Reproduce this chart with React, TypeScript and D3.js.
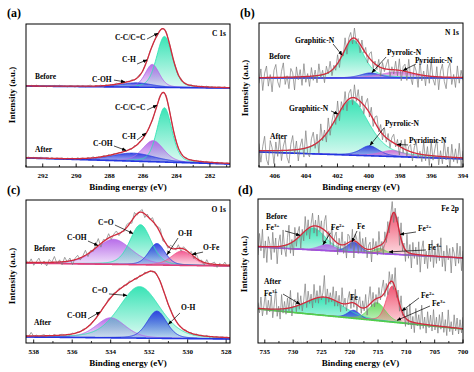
import * as d3 from "d3";

// ---------- data: fitted components [centre (eV), height (a.u.), FWHM (eV)] ----------
// C 1s
const C1S_TICKS = [292, 290, 288, 286, 284, 282];
const C1S_BEFORE_PEAKS = [[284.72, 35.7, 1.1], [285.45, 16, 1.0], [286.4, 3, 2.2]]; // C-C/C=C, C-H, C-OH
const C1S_BEFORE_BASE = [56.6, 55.2];
const C1S_AFTER_PEAKS = [[284.72, 38, 1.05], [285.4, 14.7, 1.5], [286.6, 5.6, 3.0]];
const C1S_AFTER_BASE = [6.3, 2.1];
const C1S_BEFORE_NOISE = [0.3,-0.4,0.5,-0.2,0.6,-0.5,0.2,0.4,-0.6,0.3,-0.2,0.5,-0.4,0.6,-0.3,0.2,-0.5,0.4,0.1,-0.6,0.5,-0.3,0.4,-0.5,0.2,0.6,-0.4,0.3,-0.2,0.5,-0.6,0.4,-0.1,0.3,-0.5,0.6,-0.2,0.4,-0.3,0.5,-0.4,0.7,-0.5,0.3,0.8,-0.6,0.5,-0.3,0.6,-0.4,0.2,-0.5,0.4,-0.3,0.6,-0.2,0.3,-0.5,0.4,-0.6,0.5,-0.2,0.3,-0.4,0.6,-0.3,0.2,-0.5,0.4,-0.1,0.5,-0.4,0.3,-0.6,0.2,0.4,-0.3,0.5,-0.2,0.3];
const C1S_AFTER_NOISE = [-0.3,0.5,-0.2,0.4,-0.6,0.3,0.5,-0.4,0.2,-0.5,0.6,-0.3,0.4,-0.2,0.5,-0.6,0.3,-0.1,0.4,-0.5,0.6,-0.2,0.3,-0.4,0.5,-0.3,0.7,-0.5,0.2,-0.4,0.6,-0.3,0.5,-0.6,0.4,-0.2,0.3,-0.5,0.6,-0.4,0.3,-0.6,0.8,-0.4,0.5,-0.7,0.6,-0.3,0.4,-0.5,0.3,-0.2,0.5,-0.4,0.6,-0.3,0.2,-0.5,0.4,-0.2,0.3,-0.4,0.5,-0.3,0.2,-0.5,0.4,-0.1,0.3,-0.4,0.5,-0.2,0.3,-0.5,0.4,-0.3,0.2,-0.4,0.3,-0.2];

// N 1s
const N1S_TICKS = [406, 404, 402, 400, 398, 396, 394];
const N1S_BEFORE_PEAKS = [[401.0, 26.4, 1.6], [399.9, 3.5, 1.5], [398.2, 4.2, 2.5]]; // Graphitic, Pyrrolic, Pyridinic
const N1S_BEFORE_BASE = [61.8, 61.8];
const N1S_AFTER_PEAKS = [[401.1, 38.2, 2.6], [399.95, 6.9, 1.4], [398.5, 4.2, 1.8]];
const N1S_AFTER_BASE = [10.4, 5.6];
const N1S_BEFORE_NOISE = [-4,6,-9,3,8,-6,2,-10,5,9,-3,-7,4,10,-5,1,-8,6,3,-9,7,-2,5,-6,9,-4,2,-7,6,-3,4,-5,8,-2,3,-6,5,-1,7,-4,2,-3,6,-5,4,-2,8,-6,3,5,-4,7,-3,2,-6,5,-2,4,-5,3,6,-4,2,-3,5,-6,4,-2,3,7,-5,2,-3,6,-4,8,-7,3,5,-6,9,-3,-8,6,2,-9,10,-4,3,-7,8,-5,11,-2,-6,7,-9,4,9,-3,-8,6,10,-5,2,-7,8,-4,5,-2];
const N1S_AFTER_NOISE = [5,-8,3,10,-6,-10,7,2,-9,6,-4,9,-7,3,8,-5,-9,4,10,-3,6,-8,2,7,-6,12,-4,-7,5,9,-3,6,-8,11,-2,4,-6,9,-5,3,7,-4,10,-6,5,-3,8,-7,4,6,-5,9,-2,7,-4,5,-6,3,8,-3,6,-5,4,7,-2,5,-4,6,-3,4,-5,3,6,-2,4,-6,5,-3,7,-4,3,5,-6,4,8,-3,2,-5,9,-4,6,-7,10,-3,5,12,-6,4,-5,11,-2,7,-8,9,-3,6,-4,10,-6,5];

// O 1s
const O1S_TICKS = [538, 536, 534, 532, 530, 528];
const O1S_BEFORE_PEAKS = [[533.85, 17.5, 2.2], [532.45, 28, 1.3], [531.6, 15, 1.0], [530.3, 10, 1.3]]; // C-OH, C=O, O-H, O-Fe
const O1S_BEFORE_BASE = [55.9, 53.8];
const O1S_AFTER_PEAKS = [[534.0, 14, 1.8], [532.5, 36, 2.5], [531.6, 19, 1.2]]; // C-OH, C=O, O-H
const O1S_AFTER_BASE = [4.2, 2.8];
const O1S_BEFORE_NOISE = [1.5,-1,2.5,-2,0.5,3,-1.5,1,-2.5,2,0,4,-1,1.5,-2,3,-0.5,2,-3,1,2.5,-1.5,0.5,3.5,-2,1,-1,2,5,-2.5,1.5,-0.5,3,-2,1,2.5,-1.5,0.5,-1,2,1,-2,3,-1,0.5,2,-2.5,1.5,-0.5,2.5,-1,1,3,-2,0.5,-1.5,2,1,-1,2.5,-2,1.5,0.5,-1,2,-1.5,3,-0.5,1,-2,2.5,-1,0.5,1.5,-2,1,-0.5,2,-1,1];
const O1S_AFTER_NOISE = [0.5,-0.4,2.5,-0.3,0.6,-0.5,0.3,0.8,-0.6,0.4,-0.2,0.7,-0.5,0.3,0.6,-0.4,0.2,-0.6,0.5,-0.3,0.4,-0.5,0.7,-0.2,0.3,-0.6,0.5,-0.4,0.8,-0.3,0.6,-0.5,1.2,-0.4,0.9,-0.6,1.0,-0.3,0.7,-0.8,1.1,-0.5,0.6,-0.9,0.8,-0.4,1.0,-0.7,0.5,-0.6,0.9,-0.3,0.7,-0.5,0.4,-0.6,0.8,-0.2,0.5,-0.4,0.3,-0.5,0.6,-0.3,0.4,-0.6,0.5,-0.2,0.3,-0.4,0.6,-0.3,0.2,-0.5,0.4,-0.3,0.5,-0.2,0.3,-0.4];

// Fe 2p
const FE_TICKS = [735, 730, 725, 720, 715, 710, 705, 700];
const FE_BEFORE_PEAKS = [[726.5, 15.3, 5.3], [724.0, 4.2, 3.5], [719.3, 6.9, 2.8], [714.7, 3.5, 2.5], [712.2, 28.5, 2.1]]; // Fe3+ sat, Fe2+ sat, Fe, Fe3+, Fe2+
const FE_BEFORE_BASE = [66.7, 59.0];
const FE_AFTER_PEAKS = [[724.5, 12.5, 8], [719.3, 5.6, 2.5], [715.2, 12.5, 3.5], [712.5, 25, 2.5]]; // Fe3+ sat, Fe, Fe3+, Fe2+
const FE_AFTER_BASE = [23.6, 9.7];
const FE_BEFORE_NOISE = [-6,9,-3,12,-8,4,-11,7,2,-9,10,-4,6,-12,3,8,-6,11,-2,-8,5,13,-7,2,-10,9,-5,4,7,-9,3,-6,10,-4,6,-8,2,9,-5,4,-7,8,-3,5,-9,6,11,-4,2,-6,8,-5,3,7,-8,4,-3,9,-6,2,-10,6,4,-5,8,-12,5,2,-7,9,-4,6,-3,8,-6,3,5,-9,7,-2,4,-6,10,-3,2,-8,6,-4,7,-5,3,9,-7,4,-2,6,-9,11,-5,3,-8,12,-4,6,-10,8,-3,5,-7,9,-12,4,10,-6,3,-9,7,-4,11,-8,6,-5,9,-3,13,-7,4,-10,8,-2,6,-11,7,3,-6,10,-4,8,-9,5];
const FE_AFTER_NOISE = [4,-3,8,-5,2,11,-4,6,-2,9,-6,3,14,-5,2,-7,10,-3,5,-4,7,-2,12,-6,3,5,-4,9,-3,6,-5,2,13,-4,7,-2,4,-6,10,-3,5,-4,8,-2,3,15,-5,6,-3,4,-2,9,-4,7,-3,5,-6,11,-2,4,-5,3,8,-4,6,-3,10,-5,2,7,-4,5,-2,9,-6,4,12,-3,6,-5,3,-4,7,-2,5,10,-3,4,-6,8,-2,5,-4,14,-3,6,-5,9,-2,4,-6,8,-3,12,-5,4,-7,10,-2,6,-4,13,-3,5,-6,9,-2,7,-4,11,-3,6,-5,8,-2,10,-4,5,-6,12,-3,4,-5,9,-2,7,-4,6,-3,8];

// ---------- styles / layout ----------
const FONT = "'Liberation Serif','Times New Roman',serif";
const COLORS: Record<string, string> = {
  cyan: "#2fe2b2",
  purple: "#b466e8",
  blue: "#2a3ce0",
  pink: "#f2528c",
  magenta: "#d46ad8",
  green: "#64d95a",
  fepink: "#f0506e",
};
const RED = "#d22a3c";
const GRAY = "#7c7c7c";

type Note = { t: string; at: number[]; from?: number[]; to?: number; s?: number; on?: number };

const C1S_NOTES: Note[] = [
  { t: "Before", at: [292.46, 61.5] },
  { t: "C-C/C=C", at: [287.68, 88.8], from: [285.76, 89.5], to: 285.1, s: 0, on: -1 },
  { t: "C-H", at: [287.26, 73.4], from: [286.36, 72], to: 285.76, s: 0, on: -1 },
  { t: "C-OH", at: [289.05, 59.4], from: [287.74, 60.8], to: 287.08, s: 0, on: -1 },
  { t: "After", at: [292.46, 10.5] },
  { t: "C-C/C=C", at: [287.68, 39.9], from: [285.76, 39.9], to: 285.17, s: 1, on: -1 },
  { t: "C-H", at: [287.26, 19.6], from: [286.36, 18.9], to: 285.82, s: 1, on: -1 },
  { t: "C-OH", at: [288.99, 14.7], from: [287.74, 14.7], to: 287.02, s: 1, on: -1 },
];
const N1S_NOTES: Note[] = [
  { t: "Graphitic-N", at: [404.71, 86.1], from: [402.28, 85.4], to: 401.71, s: 0, on: -1 },
  { t: "Before", at: [406.36, 75] },
  { t: "Pyrrolic-N", at: [398.84, 77.8], from: [398.9, 76.4], to: 399.8, s: 0, on: 1 },
  { t: "Pyridinic-N", at: [397.06, 72.2], from: [397.0, 71.5], to: 397.82, s: 0, on: -1 },
  { t: "Graphitic-N", at: [405.09, 38.9], from: [402.41, 38.9], to: 401.96, s: 1, on: -1 },
  { t: "After", at: [406.3, 19.4] },
  { t: "Pyrrolic-N", at: [398.97, 28.5], from: [399.03, 27.1], to: 399.93, s: 1, on: 1 },
  { t: "Pyridinic-N", at: [397.44, 16.7], from: [397.5, 15.3], to: 398.2, s: 1, on: -1 },
];
const O1S_NOTES: Note[] = [
  { t: "C=O", at: [534.66, 82.5], from: [533.78, 82.5], to: 532.84, s: 0, on: 1 },
  { t: "C-OH", at: [536.27, 72], from: [535.18, 71.3], to: 534.66, s: 0, on: -1 },
  { t: "Before", at: [537.98, 64.3] },
  { t: "O-H", at: [530.5, 74.8], from: [530.5, 73.4], to: 531.07, s: 0, on: 2 },
  { t: "O-Fe", at: [529.2, 65], from: [529.2, 63.6], to: 529.77, s: 0, on: -1 },
  { t: "C=O", at: [534.97, 35], from: [534.09, 34.3], to: 533.15, s: 1, on: 1 },
  { t: "C-OH", at: [536.27, 17.5], from: [535.18, 16.8], to: 534.55, s: 1, on: -1 },
  { t: "After", at: [537.98, 12.6] },
  { t: "O-H", at: [530.34, 23.1], from: [530.4, 21], to: 531.0, s: 1, on: 2 },
];
const FE_NOTES: Note[] = [
  { t: "Before", at: [734.79, 86.1] },
  { t: "Fe^3+", at: [734.79, 78.5], from: [731.43, 77.8], to: 728.78, s: 0, on: -1 },
  { t: "Fe^2+", at: [723.3, 78.5], from: [723.4, 76.5], to: 724.72, s: 0, on: 1 },
  { t: "Fe", at: [718.72, 79.2], from: [718.72, 77.8], to: 719.6, s: 0, on: 2 },
  { t: "Fe^2+", at: [707.95, 77.8], from: [708.3, 77.1], to: 711.1, s: 0, on: -1 },
  { t: "Fe^3+", at: [706.18, 64.6], from: [706.53, 64.6], to: 713.07, s: 0, on: 3 },
  { t: "After", at: [735.14, 41] },
  { t: "Fe^3+", at: [735.14, 32.6], from: [731.78, 34], to: 728.78, s: 1, on: -1 },
  { t: "Fe", at: [719.95, 29.9] },
  { t: "Fe^2+", at: [707.42, 31.3], from: [707.77, 31.3], to: 710.77, s: 1, on: -1 },
  { t: "Fe^3+", at: [705.48, 25.7], from: [705.83, 25.7], to: 711.65, s: 1, on: 2 },
];

const PANELS = [
  {
    tag: "(a)", tagXY: [7, 17], title: "C 1s", box: [26, 24, 230, 167], domain: [293, 280.8], yMid: 95,
    ticks: C1S_TICKS, eta: 0.3, smooth: true, notes: C1S_NOTES,
    spectra: [
      { peaks: C1S_BEFORE_PEAKS, base: C1S_BEFORE_BASE, noise: C1S_BEFORE_NOISE, colors: ["cyan", "purple", "blue"], baseColor: "#2436e0" },
      { peaks: C1S_AFTER_PEAKS, base: C1S_AFTER_BASE, noise: C1S_AFTER_NOISE, colors: ["cyan", "purple", "blue"], baseColor: "#2436e0" },
    ],
  },
  {
    tag: "(b)", tagXY: [240, 17], title: "N 1s", box: [259, 23, 463, 167], domain: [407, 394], yMid: 88,
    ticks: N1S_TICKS, eta: 0.5, smooth: false, notes: N1S_NOTES,
    spectra: [
      { peaks: N1S_BEFORE_PEAKS, base: N1S_BEFORE_BASE, noise: N1S_BEFORE_NOISE, colors: ["cyan", "blue", "magenta"], baseColor: "#2436e0" },
      { peaks: N1S_AFTER_PEAKS, base: N1S_AFTER_BASE, noise: N1S_AFTER_NOISE, colors: ["cyan", "blue", "magenta"], baseColor: "#2436e0" },
    ],
  },
  {
    tag: "(c)", tagXY: [7, 194], title: "O 1s", box: [26, 200, 230, 343], domain: [538.4, 527.8], yMid: 276,
    ticks: O1S_TICKS, eta: 0.3, smooth: false, notes: O1S_NOTES,
    spectra: [
      { peaks: O1S_BEFORE_PEAKS, base: O1S_BEFORE_BASE, noise: O1S_BEFORE_NOISE, colors: ["purple", "cyan", "blue", "pink"], baseColor: "#e0407a" },
      { peaks: O1S_AFTER_PEAKS, base: O1S_AFTER_BASE, noise: O1S_AFTER_NOISE, colors: ["purple", "cyan", "blue"], baseColor: "#2436e0" },
    ],
  },
  {
    tag: "(d)", tagXY: [238, 194], title: "Fe 2p", box: [258, 199, 463, 343], domain: [736.2, 700], yMid: 264,
    ticks: FE_TICKS, eta: 0.3, smooth: false, notes: FE_NOTES,
    spectra: [
      { peaks: FE_BEFORE_PEAKS, base: FE_BEFORE_BASE, noise: FE_BEFORE_NOISE, colors: ["cyan", "purple", "blue", "green", "fepink"], baseColor: "#a24fe0" },
      { peaks: FE_AFTER_PEAKS, base: FE_AFTER_BASE, noise: FE_AFTER_NOISE, colors: ["cyan", "blue", "green", "fepink"], baseColor: "#4fd04a" },
    ],
  },
];

// pseudo-Voigt line shape used for the fitted components
const pv = (e: number, pk: number[], eta: number) => {
  const d = (e - pk[0]) / pk[2];
  const g = Math.exp(-4 * Math.LN2 * d * d);
  const l = 1 / (1 + 4 * d * d);
  return pk[1] * (eta * l + (1 - eta) * g);
};

function Label({ t, x, y }: { t: string; x: number; y: number }) {
  const [main, sup] = t.split("^");
  return (
    <text x={x} y={y} fontSize={7.5} fontWeight="bold">
      {main}
      {sup && (
        <tspan dy={-3} fontSize={5}>
          {sup}
        </tspan>
      )}
    </text>
  );
}

function Panel({ p }: { p: (typeof PANELS)[number] }) {
  const [x0, y0, x1, y1] = p.box;
  const [d0, d1] = p.domain;
  const x = d3.scaleLinear().domain(p.domain).range([x0, x1]);
  const y = d3.scaleLinear().domain([0, 100]).range([y1, y0]);
  const grid = d3.range(501).map((i) => d0 + ((d1 - d0) * i) / 500);
  const clip = "clip-" + p.tag.replace(/\W/g, "");

  const baseAt = (s: any, e: number) => s.base[0] + ((s.base[1] - s.base[0]) * (e - d0)) / (d1 - d0);
  const envAt = (s: any, e: number) => baseAt(s, e) + d3.sum(s.peaks, (pk: number[]) => pv(e, pk, p.eta));
  const curveAt = (s: any, k: number, e: number) =>
    k < 0 ? envAt(s, e) : baseAt(s, e) + pv(e, s.peaks[k], p.eta);
  const line = d3.line<number[]>().x((d) => x(d[0])).y((d) => y(d[1]));

  const step = Math.abs(p.ticks[1] - p.ticks[0]);
  const lo = Math.min(d0, d1);
  const hi = Math.max(d0, d1);
  const minors = d3
    .range(Math.ceil(lo / (step / 2)) * (step / 2), hi + 1e-9, step / 2)
    .filter((v) => !p.ticks.some((m) => Math.abs(m - v) < 1e-6));

  return (
    <g>
      <defs>
        <clipPath id={clip}>
          <rect x={x0} y={y0} width={x1 - x0} height={y1 - y0} />
        </clipPath>
      </defs>
      <g clipPath={`url(#${clip})`}>
        {p.spectra.map((s, si) => {
          const raw = s.noise.map((n, i) => {
            const e = d0 + ((d1 - d0) * i) / (s.noise.length - 1);
            return [e, envAt(s, e) + n];
          });
          return (
            <g key={si}>
              {s.peaks.map((pk, k) => {
                const area = d3
                  .area<number>()
                  .x((e) => x(e))
                  .y0((e) => y(baseAt(s, e)))
                  .y1((e) => y(baseAt(s, e) + pv(e, pk, p.eta)));
                return <path key={k} d={area(grid) || ""} fill={`url(#grad-${s.colors[k]})`} />;
              })}
              {s.peaks.map((pk, k) => (
                <path
                  key={"o" + k}
                  d={line(grid.map((e) => [e, curveAt(s, k, e)])) || ""}
                  fill="none"
                  stroke={COLORS[s.colors[k]]}
                  strokeWidth={0.9}
                />
              ))}
              <path
                d={line(grid.map((e) => [e, baseAt(s, e)])) || ""}
                fill="none"
                stroke={s.baseColor}
                strokeWidth={1.6}
              />
              <path
                d={line.curve(p.smooth ? d3.curveCatmullRom : d3.curveLinear)(raw) || ""}
                fill="none"
                stroke={GRAY}
                strokeWidth={0.7}
              />
              <path
                d={line.curve(d3.curveLinear)(grid.map((e) => [e, envAt(s, e)])) || ""}
                fill="none"
                stroke={RED}
                strokeWidth={1.3}
              />
            </g>
          );
        })}
      </g>

      {/* annotations */}
      {p.notes.map((n, i) => {
        const s = n.s !== undefined ? p.spectra[n.s] : null;
        return (
          <g key={i}>
            <Label t={n.t} x={x(n.at[0])} y={y(n.at[1])} />
            {n.from && s && n.to !== undefined && (
              <line
                x1={x(n.from[0])}
                y1={y(n.from[1])}
                x2={x(n.to)}
                y2={y(curveAt(s, n.on ?? -1, n.to)) - 0.5}
                stroke="#000"
                strokeWidth={0.7}
                markerEnd="url(#arrowhead)"
              />
            )}
          </g>
        );
      })}

      {/* frame and axis */}
      <rect x={x0} y={y0} width={x1 - x0} height={y1 - y0} fill="none" stroke="#000" strokeWidth={1} />
      {p.ticks.map((t) => (
        <g key={t}>
          <line x1={x(t)} x2={x(t)} y1={y1} y2={y1 - 3.5} stroke="#000" strokeWidth={0.9} />
          <text x={x(t)} y={y1 + 11} fontSize={7} fontWeight="bold" textAnchor="middle">
            {t}
          </text>
        </g>
      ))}
      {minors.map((t) => (
        <line key={"m" + t} x1={x(t)} x2={x(t)} y1={y1} y2={y1 - 2} stroke="#000" strokeWidth={0.8} />
      ))}
      <text x={(x0 + x1) / 2} y={y1 + 23} fontSize={9} fontWeight="bold" textAnchor="middle">
        Binding energy (eV)
      </text>
      <text
        transform={`translate(${x0 - 11},${p.yMid}) rotate(-90)`}
        fontSize={9}
        fontWeight="bold"
        textAnchor="middle"
      >
        Intensity (a.u.)
      </text>
      <text x={x1 - 4} y={y0 + 12} fontSize={7.5} fontWeight="bold" textAnchor="end">
        {p.title}
      </text>
      <text x={p.tagXY[0]} y={p.tagXY[1]} fontSize={12} fontWeight="bold">
        {p.tag}
      </text>
    </g>
  );
}

export default function App() {
  return (
    <svg
      width={474}
      height={372}
      viewBox="0 0 474 372"
      style={{ display: "block", background: "#fff" }}
      fontFamily={FONT}
    >
      <style>{`body{margin:0}`}</style>
      <defs>
        {Object.entries(COLORS).map(([k, c]) => (
          <linearGradient key={k} id={`grad-${k}`} x1="0" y1="0" x2="0" y2="1">
            <stop offset="0" stopColor={c} stopOpacity={0.95} />
            <stop offset="1" stopColor={c} stopOpacity={0.15} />
          </linearGradient>
        ))}
        <marker
          id="arrowhead"
          viewBox="0 0 10 10"
          refX="9"
          refY="5"
          markerWidth="4.5"
          markerHeight="4.5"
          markerUnits="userSpaceOnUse"
          orient="auto"
        >
          <path d="M0,1 L10,5 L0,9 z" fill="#000" />
        </marker>
      </defs>
      {PANELS.map((p) => (
        <Panel key={p.tag} p={p} />
      ))}
    </svg>
  );
}
